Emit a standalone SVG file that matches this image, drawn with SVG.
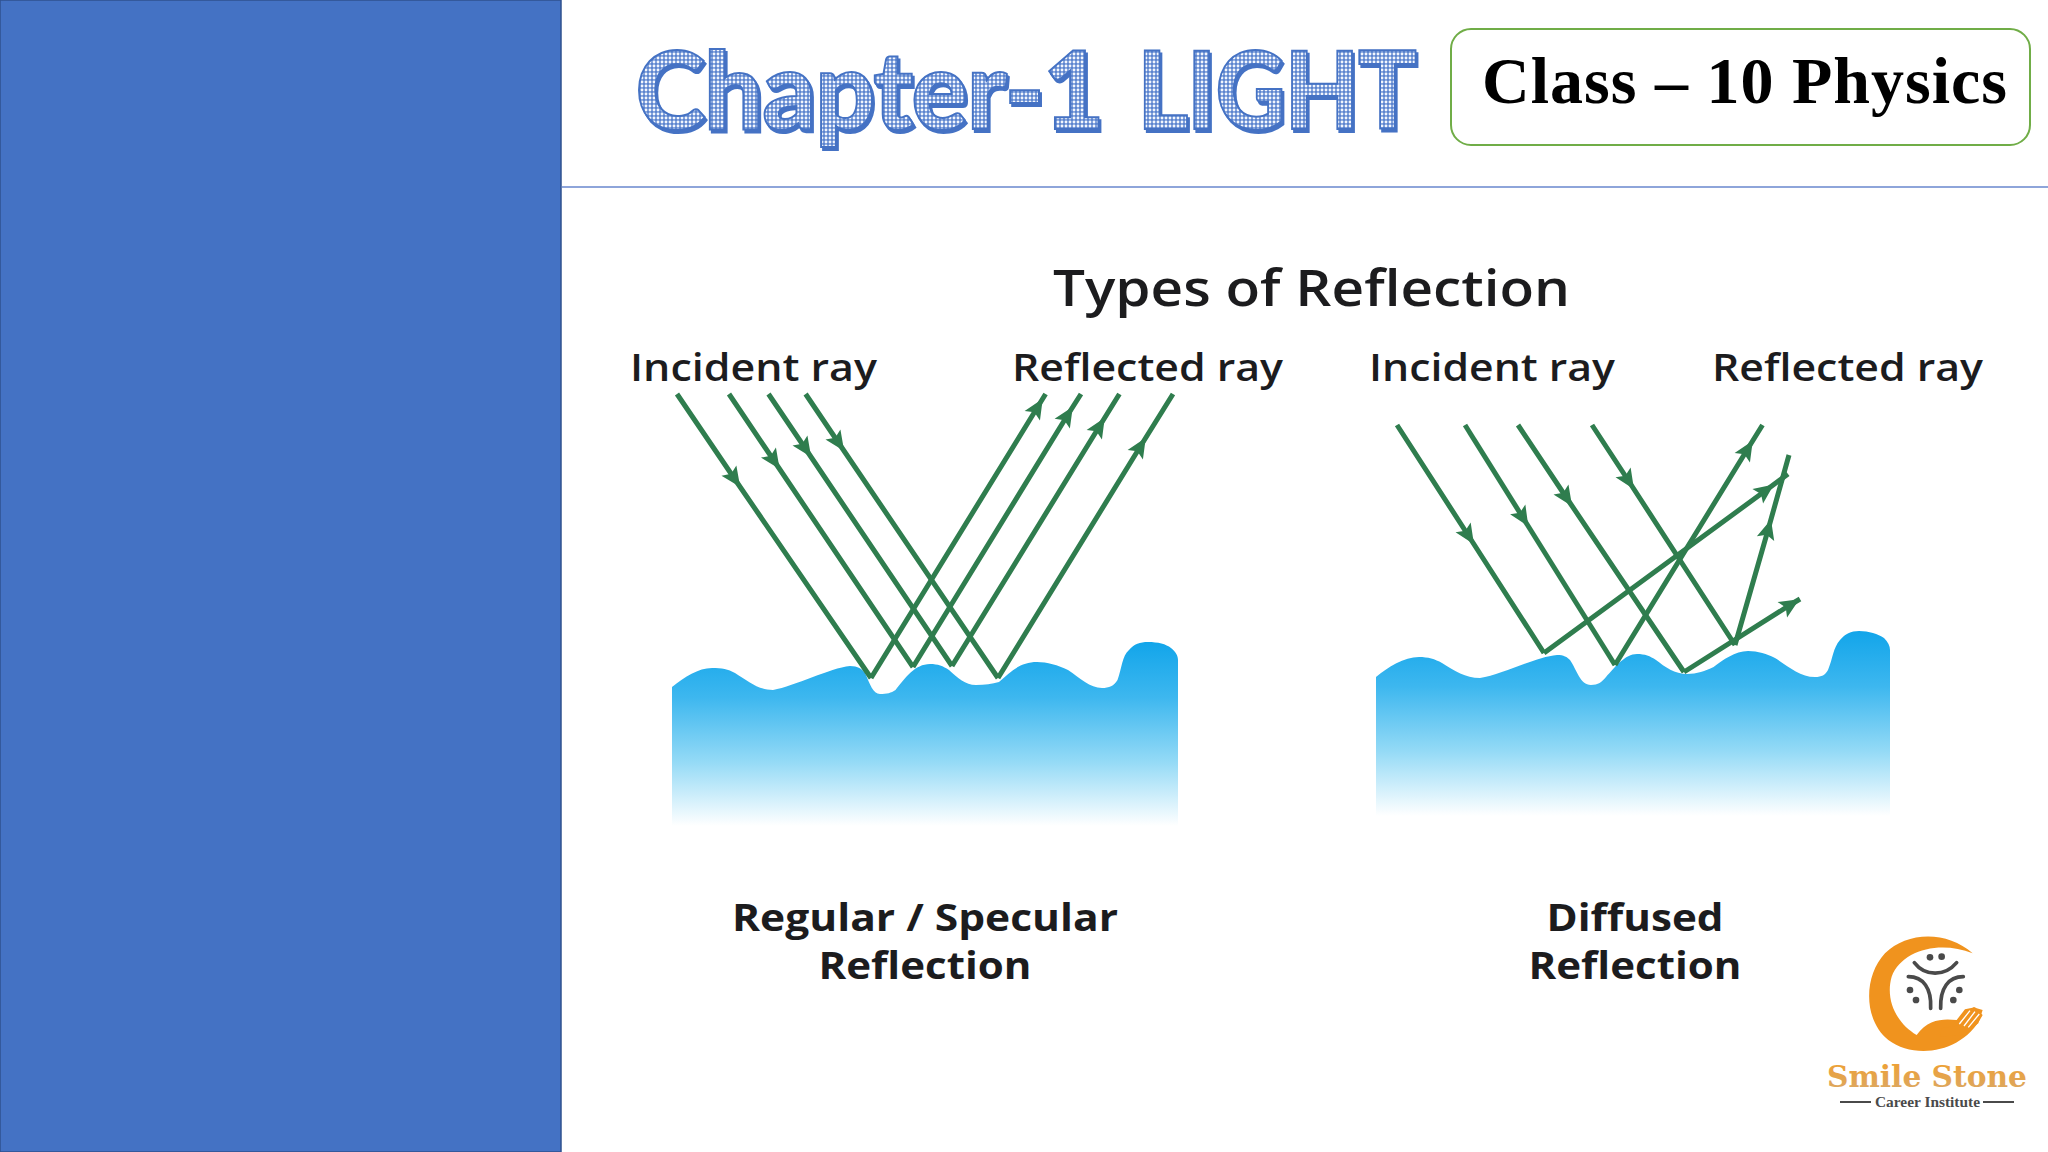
<svg xmlns="http://www.w3.org/2000/svg" width="2048" height="1152" viewBox="0 0 2048 1152">
<style>
.label{font-family:"Open Sans","Noto Sans",sans-serif;font-weight:600;fill:#1c1c1e;font-size:38px}
.cap{font-family:"Open Sans","Noto Sans",sans-serif;font-weight:700;fill:#1c1c1e;font-size:38px;text-anchor:middle}
.ray{fill:none;stroke:#2f7d4e;stroke-width:5;stroke-linejoin:miter;marker-mid:url(#head)}
.dk{fill:none;stroke:#4a4a4a;stroke-width:11;stroke-linecap:round}
.dot{fill:#4a4a4a}
</style>
<defs>
<pattern id="dots" width="4" height="4" patternUnits="userSpaceOnUse">
<rect width="4" height="4" fill="#5b84cf"/>
<circle cx="2" cy="2" r="1.45" fill="#f2f6fd"/>
</pattern>
<filter id="shadow" x="-5%" y="-10%" width="110%" height="125%">
<feDropShadow dx="2" dy="3" stdDeviation="0.5" flood-color="#4472c4"/>
</filter>
<linearGradient id="sea" x1="0" y1="0" x2="0" y2="1">
<stop offset="0" stop-color="#12a5ea"/>
<stop offset="0.3" stop-color="#3db7ef"/>
<stop offset="0.65" stop-color="#94daf6"/>
<stop offset="1" stop-color="#ffffff"/>
</linearGradient>
<linearGradient id="gold" x1="0" y1="0" x2="0" y2="1">
<stop offset="0" stop-color="#f0a030"/>
<stop offset="1" stop-color="#d9a868"/>
</linearGradient>
<marker id="head" markerUnits="userSpaceOnUse" markerWidth="30" markerHeight="30" refX="15" refY="15" orient="auto">
<path d="M26,15 L6,6 L10,15 L6,24 Z" fill="#2f7d4e"/>
</marker>
</defs>
<rect width="2048" height="1152" fill="#ffffff"/>
<g id="panel"><rect x="0" y="0" width="561" height="1152" fill="#4472c4" stroke="#2f528f" stroke-width="1.5"/></g>
<g id="rule"><line x1="562" y1="187" x2="2048" y2="187" stroke="#8ea5da" stroke-width="2"/></g>
<g id="title">
<text y="128" font-family="Lato,'Open Sans',sans-serif" font-weight="700" font-size="106" fill="url(#dots)" stroke="#4472c4" stroke-width="4" paint-order="stroke" filter="url(#shadow)"><tspan x="636" textLength="468" lengthAdjust="spacingAndGlyphs">Chapter-1</tspan> <tspan x="1138" textLength="278" lengthAdjust="spacingAndGlyphs">LIGHT</tspan></text>
</g>
<g id="class-box">
<rect x="1451" y="29" width="579" height="116" rx="20" fill="#ffffff" stroke="#70ad47" stroke-width="2"/>
<text x="1482" y="103" font-family="'Liberation Serif',serif" font-weight="700" font-size="66" fill="#000000" textLength="525" lengthAdjust="spacing">Class – 10 Physics</text>
</g>
<g id="heading"><text x="1053" y="306" font-family="'Open Sans','Noto Sans',sans-serif" font-weight="600" font-size="50" fill="#1c1c1e" textLength="517" lengthAdjust="spacingAndGlyphs">Types of Reflection</text></g>
<g id="surface-regular">
<path fill="url(#sea)" d="M672,687 C685,677 698,668 712,668 C722,668 728,669 735,673 C748,681 758,690 773,690 C795,686 830,668 850,666 C858,666 862,669 865,673 C870,684 873,694 880,694 C887,694 891,693 895.5,690 C905,678 915,664 930,664 C938,664 943,666 949,670 C958,678 965,685 976,685 C985,685 992,684 999,682 C1010,672 1020,662 1037,662 C1047,662 1058,665 1068,670 C1080,678 1090,688 1102,688 C1109,688 1114,686 1117.5,680 C1122,668 1122,656 1129,650 C1134,644 1140,642 1148,642 C1158,642 1166,644 1171,648 C1176,652 1178,656 1178,660 L1178,826 L672,826 Z"/>
</g>
<g id="surface-diffused">
<path fill="url(#sea)" d="M1376,677 C1388,667 1404,657 1419,657 C1428,657 1435,659 1442,663 C1455,671 1465,678 1480,678 C1502,675 1535,657 1557,655 C1564,655 1567,657 1570,660 C1577,670 1580,685 1591,685 C1598,685 1602,682 1606,677 C1615,667 1625,654 1637,654 C1645,654 1650,656 1656,660 C1665,667 1675,674 1687,674 C1697,674 1705,671 1713.6,667 C1723,660 1735,651 1748,651 C1758,651 1767,654 1775,658 C1788,666 1800,677 1815,677 C1822,677 1825,675 1828,670 C1833,658 1833,648 1840,640 C1845,634 1851,631 1859,631 C1869,631 1878,634 1884,638 C1888,642 1890,646 1890,650 L1890,816 L1376,816 Z"/>
</g>
<g id="connectors">
<path class="ray" d="M677,394 L734,478 L871,678"/>
<path class="ray" d="M729,394 L773.5,460 L913,667"/>
<path class="ray" d="M768.5,394 L805,448 L952,666"/>
<path class="ray" d="M805.6,394 L838,442 L998,678"/>
<path class="ray" d="M871,678 L1037,408 L1045.6,394"/>
<path class="ray" d="M913,667 L1067,416 L1081,394"/>
<path class="ray" d="M952,666 L1099,427 L1119.4,394"/>
<path class="ray" d="M998,678 L1140,447 L1173,394"/>
<path class="ray" d="M1397,425 L1468,535 L1544,653"/>
<path class="ray" d="M1465,425 L1522.5,517 L1615,665"/>
<path class="ray" d="M1518,425 L1566,497 L1684,672"/>
<path class="ray" d="M1592,425 L1628,480 L1735,645"/>
<path class="ray" d="M1544,653 L1765,491 L1788,474"/>
<path class="ray" d="M1615,665 L1747,450 L1762.5,425"/>
<path class="ray" d="M1735,645 L1768,530 L1789,455"/>
<path class="ray" d="M1684,672 L1790,605 L1800,599"/>
</g>
<g id="labels">
<text class="label" x="630" y="381" textLength="247" lengthAdjust="spacingAndGlyphs">Incident ray</text>
<text class="label" x="1012" y="381" textLength="271" lengthAdjust="spacingAndGlyphs">Reflected ray</text>
<text class="label" x="1369" y="381" textLength="246" lengthAdjust="spacingAndGlyphs">Incident ray</text>
<text class="label" x="1712" y="381" textLength="271" lengthAdjust="spacingAndGlyphs">Reflected ray</text>
<text class="cap" x="925" y="931" textLength="386" lengthAdjust="spacingAndGlyphs">Regular / Specular</text>
<text class="cap" x="925" y="979" textLength="213" lengthAdjust="spacingAndGlyphs">Reflection</text>
<text class="cap" x="1635" y="931" textLength="177" lengthAdjust="spacingAndGlyphs">Diffused</text>
<text class="cap" x="1635" y="979" textLength="213" lengthAdjust="spacingAndGlyphs">Reflection</text>
</g>
<g id="logo">
<g transform="translate(1800,920) scale(0.3333)">
<path fill="#f0931e" d="M518,100 C440,30 320,35 255,100 C190,170 190,300 265,360 C345,420 490,400 548,285 L525,262 L495,268 L470,300 C430,296 385,296 350,345 C290,310 255,240 275,170 C305,90 420,60 518,100 Z"/>
<path fill="#f0931e" d="M425,325 L480,315 L495,285 L520,262 L548,270 L535,310 L490,345 L420,350 Z"/>
<path stroke="#ffffff" stroke-width="4" fill="none" d="M478,312 L510,272 M492,318 L525,275 M505,322 L538,282"/>
<path class="dk" d="M343,128 C375,170 435,170 470,128"/>
<path class="dk" d="M325,170 C370,170 395,205 392,265"/>
<path class="dk" d="M490,170 C445,170 420,205 422,265"/>
<circle class="dot" cx="390" cy="112" r="10"/><circle class="dot" cx="425" cy="110" r="10"/>
<circle class="dot" cx="330" cy="210" r="10"/><circle class="dot" cx="348" cy="240" r="10"/>
<circle class="dot" cx="478" cy="210" r="10"/><circle class="dot" cx="460" cy="240" r="10"/>
</g>
<text x="1827" y="1087" font-family="'DejaVu Serif',serif" font-weight="700" font-size="29" fill="url(#gold)" textLength="200" lengthAdjust="spacingAndGlyphs">Smile Stone</text>
<line x1="1840" y1="1102" x2="1871" y2="1102" stroke="#4a4a4a" stroke-width="2"/>
<line x1="1983" y1="1102" x2="2014" y2="1102" stroke="#4a4a4a" stroke-width="2"/>
<text x="1875" y="1107" font-family="'Liberation Serif',serif" font-weight="700" font-size="14" fill="#4a4a4a" textLength="105" lengthAdjust="spacingAndGlyphs">Career Institute</text>
</g>
</svg>
